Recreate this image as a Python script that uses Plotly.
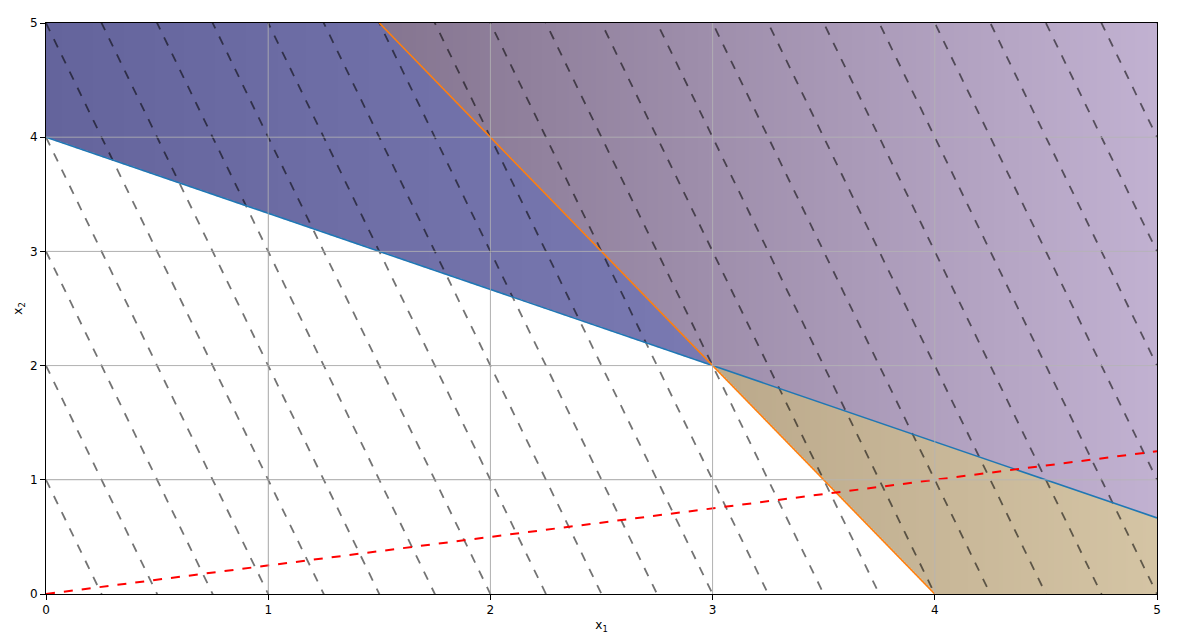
import numpy as np
import plotly.graph_objects as go

# constraints: 2x1+3x2>=12 (blue), 2x1+x2>=8 (orange), objective lines 4x1+x2=c, ray x2=x1/4
blue_coef = [2, 3, 12]
orange_coef = [2, 1, 8]
obj_levels = list(range(1, 26))
red_x = [0, 5]
red_y = [0, 1.25]
ticks = [0, 1, 2, 3, 4, 5]

fig = go.Figure()

n = 500
xs = np.linspace(0, 5, n)
ys = np.linspace(0, 5, n)
X, Y = np.meshgrid(xs, ys)
aboveB = blue_coef[0]*X + blue_coef[1]*Y >= blue_coef[2]
aboveO = orange_coef[0]*X + orange_coef[1]*Y >= orange_coef[2]
t = X / 5.0
Z = np.full(X.shape, np.nan)
m1 = aboveB & ~aboveO
m2 = aboveB & aboveO
m3 = ~aboveB & aboveO
Z[m1] = 0 + t[m1] * 0.99
Z[m2] = 1 + t[m2] * 0.99
Z[m3] = 2 + t[m3] * 0.99
cs = [
    [0.0, "#64649c"], [0.2, "#7a7ab2"], [0.333, "#8080b8"],
    [0.334, "#7a6a88"], [0.433, "#857590"], [0.666, "#c2b2d2"],
    [0.667, "#ab9878"], [0.87, "#bcaa8c"], [1.0, "#d5c5a5"],
]
fig.add_trace(go.Heatmap(x=xs, y=ys, z=Z, zmin=0, zmax=3, colorscale=cs,
                         showscale=False, hoverinfo="skip", zsmooth="fast"))

for v in ticks[1:-1]:
    fig.add_shape(type="line", x0=v, x1=v, y0=0, y1=5, line=dict(color="rgba(180,180,180,0.8)", width=1), layer="above")
    fig.add_shape(type="line", x0=0, x1=5, y0=v, y1=v, line=dict(color="rgba(180,180,180,0.8)", width=1), layer="above")

for c in obj_levels:
    fig.add_trace(go.Scatter(x=[0, 5], y=[c, c - 20], mode="lines",
                             line=dict(color="rgba(0,0,0,0.55)", width=1.8, dash="dash"),
                             showlegend=False, hoverinfo="skip"))

bx = np.array([0, 5])
fig.add_trace(go.Scatter(x=bx, y=(blue_coef[2]-blue_coef[0]*bx)/blue_coef[1], mode="lines",
                         line=dict(color="#1f77b4", width=1.6), showlegend=False))
ox = np.array([1.5, 4])
fig.add_trace(go.Scatter(x=ox, y=(orange_coef[2]-orange_coef[0]*ox)/orange_coef[1], mode="lines",
                         line=dict(color="#ff7f0e", width=1.6), showlegend=False))
fig.add_trace(go.Scatter(x=red_x, y=red_y, mode="lines",
                         line=dict(color="red", width=2, dash="dash"), showlegend=False))

ax = dict(range=[0, 5], tickvals=ticks, showgrid=True, gridcolor="rgba(170,170,170,0.8)",
          zeroline=False, showline=True, linecolor="black", mirror=True, ticks="outside",
          tickcolor="black", tickfont=dict(family="DejaVu Sans", size=12, color="black"))
fig.update_layout(
    width=1200, height=642, plot_bgcolor="white", paper_bgcolor="white",
    margin=dict(l=38, r=51, t=8, b=56),
    xaxis=dict(**ax, title=dict(text="x<sub>1</sub>", standoff=4,
               font=dict(family="DejaVu Sans", size=12, color="black"))),
    yaxis=dict(**ax, title=dict(text="x<sub>2</sub>", standoff=4,
               font=dict(family="DejaVu Sans", size=12, color="black"))),
)
fig.write_html("out.html")
